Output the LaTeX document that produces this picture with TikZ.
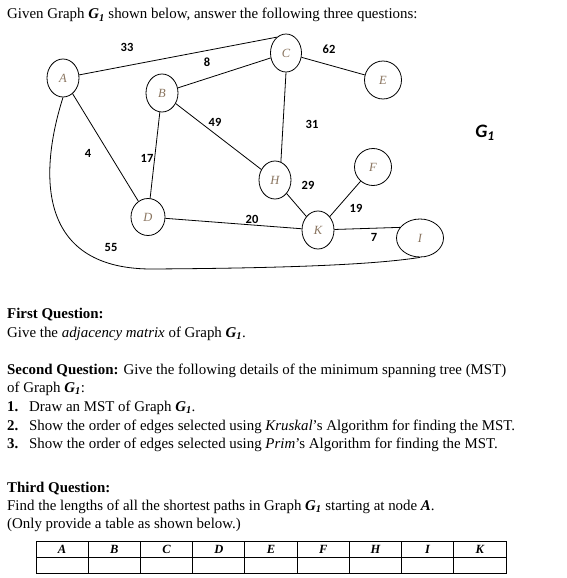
\documentclass[tikz,border=0pt]{standalone}
\usepackage{fontspec}
\setmainfont{Liberation Serif}
\newfontfamily\lblfont{Carlito}
\usetikzlibrary{shapes.geometric}
\definecolor{vtx}{HTML}{8A7560}
\tikzset{
  vert/.style={draw, ellipse, line width=0.8pt, inner sep=0pt, minimum width=32pt, minimum height=38pt,
    font=\fontsize{12.5}{12.5}\selectfont\itshape, text=vtx},
  edge/.style={line width=0.8pt},
  wt/.style={font=\lblfont\bfseries\fontsize{12.5}{12.5}\selectfont, inner sep=0pt},
  txt/.style={anchor=base west, inner sep=0pt, font=\fontsize{14.9}{18}\selectfont},
  hdr/.style={font=\fontsize{12.5}{12.5}\selectfont\bfseries\itshape, inner sep=0pt},
  grid/.style={line width=0.8pt}
}
\newcommand{\Gone}{\textbf{\textit{G\textsubscript{1}}}}
\begin{document}
\begin{tikzpicture}[x=1pt,y=-1pt]
\useasboundingbox (0,0) rectangle (566,578);
% vertices
\node[vert] (A) at (63,78) {A};
\node[vert] (B) at (162,93) {B};
\node[vert, minimum width=31pt] (C) at (286,53) {C};
\node[vert, minimum width=37pt] (E) at (383,80) {E};
\node[vert] (H) at (275,180) {H};
\node[vert, minimum width=37pt, minimum height=37pt] (F) at (373,167) {F};
\node[vert, minimum width=34pt, minimum height=37pt] (D) at (148,217) {D};
\node[vert] (K) at (318,230) {K};
\node[vert, minimum width=47pt] (I) at (420,238) {I};
% edges
\draw[edge] (A) -- (C.120);
\draw[edge] (B) -- (C);
\draw[edge] (C) -- (E);
\draw[edge] (C.south) -- (H.72);
\draw[edge] (B) -- (H);
\draw[edge] (B) -- (D);
\draw[edge] (A) -- (D);
\draw[edge] (D) -- (K);
\draw[edge] (H) -- (K);
\draw[edge] (K) -- (F);
\draw[edge] (K) -- (I.152);
\coordinate (bend) at (150,269);
\draw[edge] (A.south) .. controls (40,170) and (35,268) .. (bend)
  .. controls (330,268) and (390,262) .. (I.south);
% weights
\node[wt] (w33) at (127,47) {33};
\node[wt] (w8) at (207,62) {8};
\node[wt] (w49) at (215,122) {49};
\node[wt] (w4) at (88,153) {4};
\node[wt] (w17) at (147,158) {17};
\node[wt] (w20) at (252,219) {20};
\node[wt] (w55) at (111,247) {55};
\node[wt] (w62) at (329,49) {62};
\node[wt] (w31) at (312,124) {31};
\node[wt] (w29) at (308,185) {29};
\node[wt] (w19) at (356,208) {19};
\node[wt] (w7) at (374,237) {7};
\node[font=\lblfont\bfseries\itshape\fontsize{19}{19}\selectfont, inner sep=0pt] (G1) at (485,133) {G\textsubscript{1}};
% text
\node[txt] (t1) at (7,19) {Given Graph \Gone{} shown below, answer the following three questions:};
\node[txt] (t2) at (7,318) {\textbf{First Question:}};
\node[txt] (t3) at (7,337) {Give the \textit{adjacency matrix} of Graph \Gone.};
\node[txt] (t4) at (7,374) {\textbf{Second Question:} Give the following details of the minimum spanning tree (MST)};
\node[txt] (t5) at (7,392) {of Graph \Gone:};
\node[txt] (n1) at (7,411) {\textbf{1.}};
\node[txt] (t6) at (29,411) {Draw an MST of Graph \Gone.};
\node[txt] (n2) at (7,430) {\textbf{2.}};
\node[txt] (t7) at (29,430) {Show the order of edges selected using \textit{Kruskal}'s Algorithm for finding the MST.};
\node[txt] (n3) at (7,448) {\textbf{3.}};
\node[txt] (t8) at (29,448) {Show the order of edges selected using \textit{Prim}'s Algorithm for finding the MST.};
\node[txt] (t9) at (7,492) {\textbf{Third Question:}};
\node[txt] (t10) at (7,510) {Find the lengths of all the shortest paths in Graph \Gone{} starting at node \textbf{\textit{A}}.};
\node[txt] (t11) at (7,528) {(Only provide a table as shown below.)};
% table
\draw[grid] (36,541) rectangle (506,573);
\draw[grid] (36,557) -- (506,557);
\foreach \i in {1,...,8} {
  \draw[grid] ({36+52.222*\i},541) -- ({36+52.222*\i},573);
}
\foreach \lab [count=\i from 0] in {A,B,C,D,E,F,H,I,K} {
  \node[hdr] (h\i) at ({36+52.222*\i+26.1},549) {\lab};
}
\end{tikzpicture}
\end{document}
